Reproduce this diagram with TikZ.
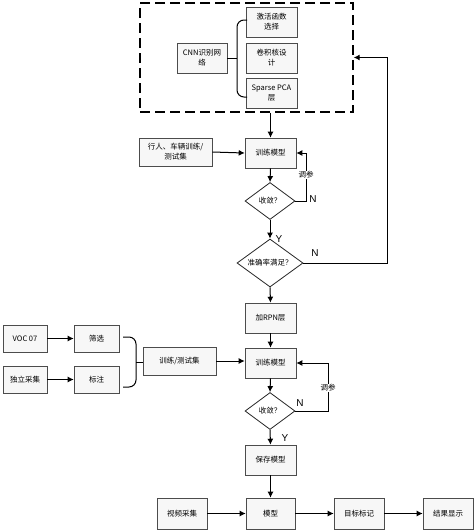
\documentclass[tikz,border=0pt]{standalone}
\usepackage{fontspec}
\newfontfamily\cjkfont{Noto Sans CJK SC}
\newfontfamily\latinfont{Liberation Sans}
\usetikzlibrary{shapes.geometric,arrows.meta}

\tikzset{
  box/.style={draw=black!70,fill=gray!6,line width=0.6pt,inner sep=1pt,align=center,
    minimum width=51pt,minimum height=30pt,font=\cjkfont\fontsize{7.5}{10}\selectfont},
  decide/.style={diamond,draw=black!85,fill=white,line width=0.8pt,inner sep=0pt,aspect=1.6,
    font=\cjkfont\fontsize{7.5}{10}\selectfont},
  flow/.style={line width=1pt,-{Latex[length=6pt,width=6pt]}},
  link/.style={line width=1pt},
  yn/.style={font=\latinfont\fontsize{10}{12}\selectfont,inner sep=0pt},
  tune/.style={fill=white,inner sep=1pt,font=\cjkfont\fontsize{7.5}{10}\selectfont}
}

\begin{document}
\begin{tikzpicture}[x=1pt,y=-1pt]
  \useasboundingbox (0,0) rectangle (474,531);

  % CNN network block
  \node[draw,line width=1.4pt,dash pattern=on 10pt off 5pt,minimum width=213pt,minimum height=109pt]
    (cnnframe) at (246.5,57.5) {};
  \node[box,minimum width=50pt] (cnn) at (202,58) {CNN识别网\\络};
  \node[box] (act) at (271.5,22) {激活函数\\选择};
  \node[box] (kern) at (271.5,58) {卷积核设\\计};
  \node[box] (spca) at (271.5,93) {Sparse PCA\\层};
  \coordinate (bracetop) at (247,20);
  \coordinate (bracemid) at (237,58);
  \coordinate (bracebot) at (247,97);
  \draw[link,rounded corners=7pt] (bracetop) -| (bracemid) |- (bracebot);
  \draw[link] (cnn.east) -- (bracemid);

  % first training loop
  \node[box] (train1) at (270.5,153) {训练模型};
  \node[box,minimum width=73pt,minimum height=28pt] (peddata) at (175.5,152) {行人、车辆训练/\\测试集};
  \node[decide,minimum width=50pt,minimum height=37pt] (conv1) at (270,201) {收敛？};
  \node[decide,minimum width=66pt,minimum height=48pt] (acc) at (270,263) {准确率满足？};

  \draw[flow] (cnnframe.south -| train1) -- (train1.north);
  \draw[flow] (peddata.east) -- (train1.west);
  \draw[flow] (train1.south) -- (conv1.north);
  \draw[flow] (conv1.east) -- ++(11,0) coordinate (tune1) |- (train1.east);
  \node[tune] (tunelabel1) at (306,175) {调参};
  \node[yn] (n1) at (313,199) {N};
  \draw[flow] (conv1.south) -- (acc.north);
  \node[yn] (y1) at (279,239) {Y};
  \draw[flow] (acc.east) -- ++(84,0) coordinate (back) |- (cnnframe.east);
  \node[yn] (n2) at (315,253) {N};

  % second training loop
  \node[box] (rpn) at (270.5,318) {加RPN层};
  \node[box] (train2) at (270.5,363) {训练模型};
  \node[decide,minimum width=50pt,minimum height=37pt] (conv2) at (270,411) {收敛？};
  \node[box] (save) at (270.5,460) {保存模型};
  \draw[flow] (acc.south) -- (rpn.north);
  \draw[flow] (rpn.south) -- (train2.north);
  \draw[flow] (train2.south) -- (conv2.north);
  \draw[flow] (conv2.east) -- ++(33,0) coordinate (tune2) |- (train2.east);
  \node[tune] (tunelabel2) at (328,388) {调参};
  \node[yn] (n3) at (300,403) {N};
  \draw[flow] (conv2.south) -- (save.north);
  \node[yn] (y2) at (285,438) {Y};

  % data preparation
  \node[box,minimum width=44pt,minimum height=27pt] (voc) at (25,338.5) {VOC 07};
  \node[box,minimum width=45pt,minimum height=27pt] (filt) at (96.5,338.5) {筛选};
  \node[box,minimum width=44pt,minimum height=27pt] (own) at (25,379.5) {独立采集};
  \node[box,minimum width=45pt,minimum height=27pt] (annot) at (96.5,379.5) {标注};
  \node[box,minimum width=73pt,minimum height=28pt] (trainset) at (179.5,361) {训练/测试集};
  \draw[flow] (voc.east) -- (filt.west);
  \draw[flow] (own.east) -- (annot.west);
  \coordinate (settop) at (123,337);
  \coordinate (setmid) at (136,362);
  \coordinate (setbot) at (123,387);
  \draw[link,rounded corners=7pt] (settop) -| (setmid) |- (setbot);
  \draw[link] (setmid) -- (trainset.west |- setmid);
  \draw[flow] (trainset.east) -- (trainset.east -| train2.west);

  % application chain
  \node[box,minimum width=50pt,minimum height=31pt] (video) at (182,513.5) {视频采集};
  \node[box,minimum width=49pt,minimum height=31pt] (model) at (270.5,513.5) {模型};
  \node[box,minimum width=50pt,minimum height=31pt] (mark) at (359,513.5) {目标标记};
  \node[box,minimum width=50pt,minimum height=31pt] (show) at (448,513.5) {结果显示};
  \draw[flow] (save.south) -- (model.north);
  \draw[flow] (video.east) -- (model.west);
  \draw[flow] (model.east) -- (mark.west);
  \draw[flow] (mark.east) -- (show.west);
\end{tikzpicture}
\end{document}
